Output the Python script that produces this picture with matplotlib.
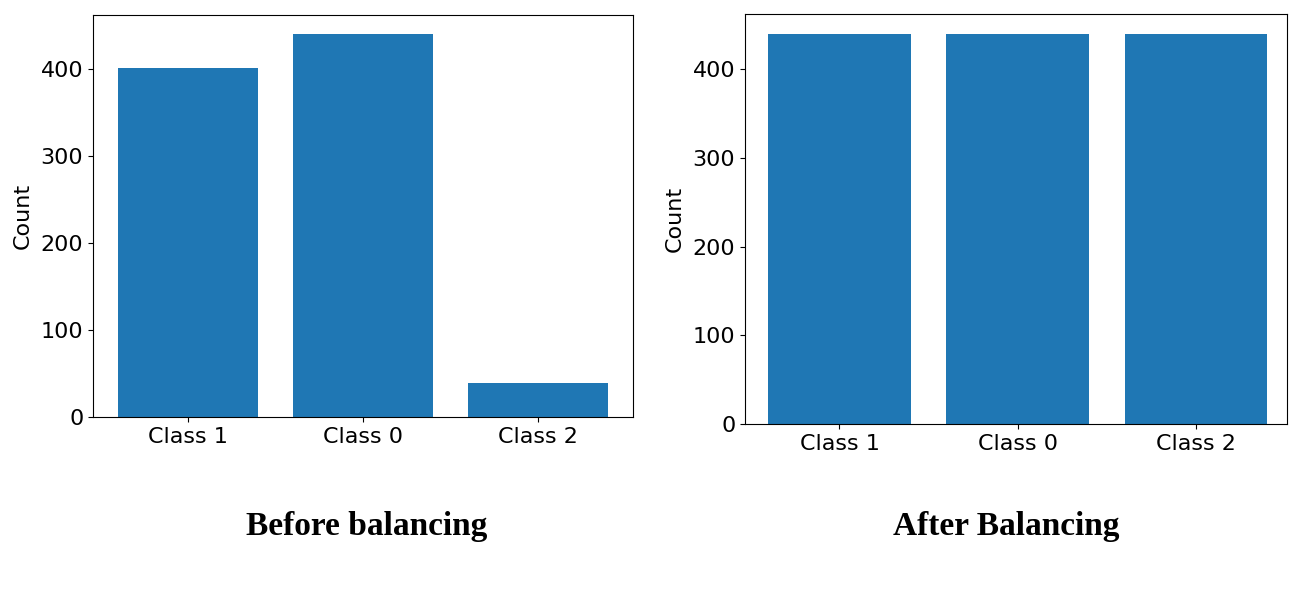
import matplotlib
matplotlib.use("Agg")
import matplotlib.pyplot as plt

categories = ["Class 1", "Class 0", "Class 2"]
before_counts = [401, 440, 39]
after_counts = [440, 440, 440]
titles = ["Before balancing", "After Balancing"]

W, H = 1307, 608
fig = plt.figure(figsize=(W / 100, H / 100), dpi=100)

# axes boxes in pixels: left, top, right, bottom
boxes = [(93, 15, 633, 417), (745, 14, 1287, 424)]
xlims = [None, (-0.53, 2.51)]
title_x = [367, 1006]

for (l, t, r, b), counts, title, tx, xl in zip(boxes, [before_counts, after_counts],
                                              titles, title_x, xlims):
    ax = fig.add_axes([l / W, (H - b) / H, (r - l) / W, (b - t) / H])
    ax.bar(categories, counts, color="#1f77b4")
    ax.set_ylabel("Count", fontsize=16, labelpad=6)
    ax.tick_params(labelsize=16)
    ax.set_yticks([0, 100, 200, 300, 400])
    if xl:
        ax.set_xlim(*xl)
    fig.text(tx / W, 1 - 526 / H, title, ha="center", va="center",
             fontsize=24, fontweight="bold", family="Liberation Serif")

fig.savefig("out.png", dpi=100)
